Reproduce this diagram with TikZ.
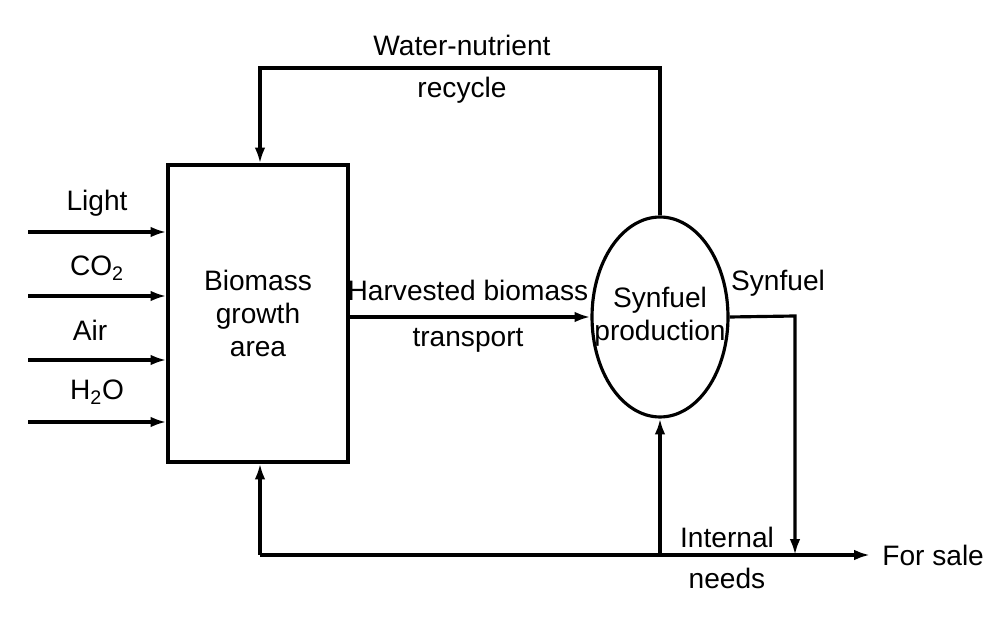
\documentclass[tikz,border=0pt]{standalone}
\usepackage{fontspec}
\setmainfont{Liberation Sans}
\usetikzlibrary{shapes.geometric,arrows.meta}
\tikzset{
  flow/.style={draw=black, line width=1.8pt, -{Latex[length=9pt,width=6pt]}},
  lbl/.style={font=\fontsize{16}{19}\selectfont, inner sep=0pt},
}
\begin{document}
\begin{tikzpicture}[x=0.02cm, y=-0.02cm]
    \useasboundingbox (0,0) rectangle (1000,617);
    \node[draw, line width=1.8pt, minimum width=3.6cm, minimum height=5.94cm, align=center, lbl] (box) at (258,313.5) {Biomass\\growth\\area};
    \node[draw, line width=1.8pt, ellipse, inner sep=0pt, minimum width=2.72cm, minimum height=4cm] (syn) at (660,317) {};
    \node[lbl, align=center] (synlbl) at (syn.center) {Synfuel\\production};

    \coordinate (l1) at (28,232);
    \coordinate (l2) at (28,296);
    \coordinate (l3) at (28,360);
    \coordinate (l4) at (28,422);
    \path[flow] (l1) -- (l1 -| box.west);
    \path[flow] (l2) -- (l2 -| box.west);
    \path[flow] (l3) -- (l3 -| box.west);
    \path[flow] (l4) -- (l4 -| box.west);
    \node[lbl] (light) at (97,203) {Light};
    \node[lbl] (co2) at (97,268) {CO\textsubscript{2}};
    \node[lbl] (air) at (90,330) {Air};
    \node[lbl] (h2o) at (97,392) {H\textsubscript{2}O};

    \coordinate (tl) at (260,68);
    \coordinate (tr) at (660,68);
    \path[flow] (syn.north) -- (tr) -- (tl) -- (tl |- box.north);
    \node[lbl] (water) at (462,45) {Water-nutrient};
    \node[lbl] (recyc) at (462,90) {recycle};

    \path[flow] (box.east |- syn) -- (syn.west);
    \node[lbl] (harv) at (468,290) {Harvested biomass};
    \node[lbl] (trans) at (468,340) {transport};

    \coordinate (sr) at (795,316);
    \coordinate (sd) at (795,555);
    \path[flow] (syn.east) -- (sr) -- (sd);
    \node[lbl] (synout) at (778,283) {Synfuel};

    \coordinate (bl) at (260,555);
    \coordinate (bm) at (660,555);
    \coordinate (sale) at (870,555);
    \path[flow] (bl) -- (sale);
    \path[flow] (bl) -- (bl |- box.south);
    \path[flow] (bm) -- (syn.south);
    \node[lbl] (inta) at (727,537) {Internal};
    \node[lbl] (intb) at (727,578) {needs};
    \node[lbl, anchor=west] (forsale) at (882,555) {For sale};
\end{tikzpicture}
\end{document}
